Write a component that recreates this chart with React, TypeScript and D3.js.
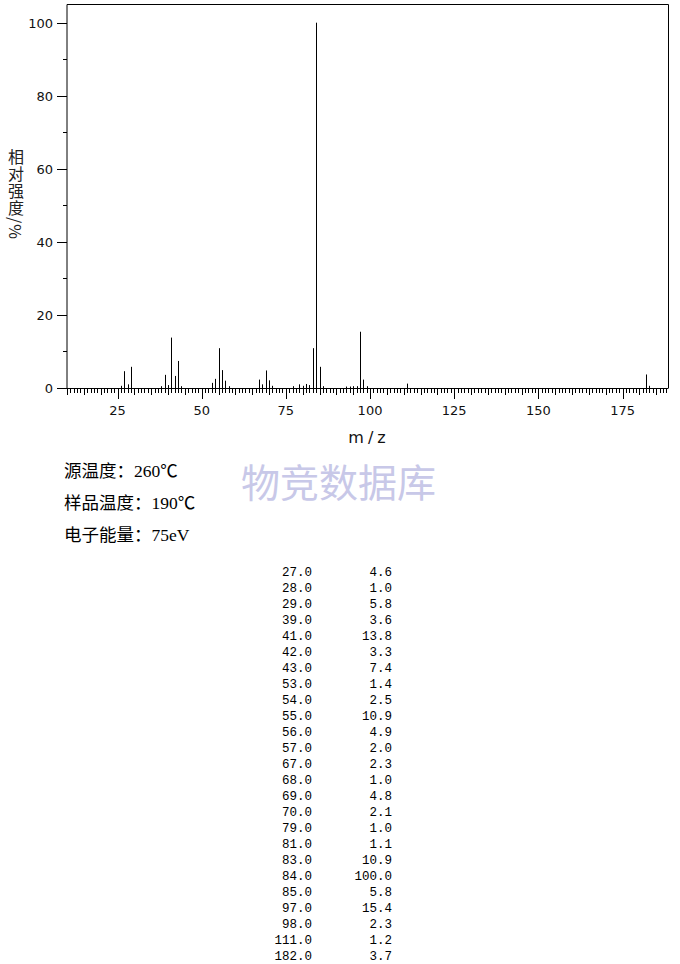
import * as d3 from 'd3';

// tabulated peaks (m/z, relative intensity %)
const peakMz = [27, 28, 29, 39, 41, 42, 43, 53, 54, 55, 56, 57, 67, 68, 69, 70, 79, 81, 83, 84, 85, 97, 98, 111, 182];
const peakInt = [4.6, 1.0, 5.8, 3.6, 13.8, 3.3, 7.4, 1.4, 2.5, 10.9, 4.9, 2.0, 2.3, 1.0, 4.8, 2.1, 1.0, 1.1, 10.9, 100.0, 5.8, 15.4, 2.3, 1.2, 3.7];

// small unlabelled peaks
const minorMz = [26, 38, 40, 44, 58, 71, 77, 80, 82, 86, 93, 94, 95, 96, 99, 183];
const minorInt = [0.6, 0.5, 0.8, 0.5, 0.5, 0.6, 0.5, 0.6, 0.8, 0.5, 0.4, 0.4, 0.5, 0.5, 0.5, 0.6];

const xTicks = [25, 50, 75, 100, 125, 150, 175];
const yTicks = [0, 20, 40, 60, 80, 100];
const yMinor = [10, 30, 50, 70, 90];

const infoLines = ['源温度：260℃', '样品温度：190℃', '电子能量：75eV'];

const W = 680;
const H = 964;
const box = { left: 67, top: 4, right: 668, bottom: 388 };

export default function App() {
  const x = d3.scaleLinear().domain([10, 188.5]).range([box.left, box.right]);
  const y = d3.scaleLinear().domain([0, 100]).range([box.bottom, 22.7]);
  const minorX = d3.range(10, 189, 1);
  const tickFont = "'DejaVu Sans', Verdana, sans-serif";

  return (
    <svg
      width={W}
      height={H}
      viewBox={`0 0 ${W} ${H}`}
      style={{ position: 'absolute', left: 0, top: 0, background: '#fff' }}
    >
      {/* frame */}
      <path
        d={`M${box.left},${box.bottom}V${box.top + 0.5}H${box.right + 0.5}V${box.bottom}`}
        fill="none"
        stroke="#000"
        strokeWidth={1}
      />
      <line x1={box.left} x2={box.right + 0.5} y1={box.bottom + 0.5} y2={box.bottom + 0.5} stroke="#000" />

      {/* x ticks */}
      {minorX.map((v) => {
        const len = v % 25 === 0 ? 11 : v % 5 === 0 ? 7 : 5;
        const px = Math.round(x(v)) + 0.5;
        return <line key={`xt${v}`} x1={px} x2={px} y1={box.bottom} y2={box.bottom + len} stroke="#000" />;
      })}
      {xTicks.map((v) => (
        <text key={`xl${v}`} x={x(v)} y={415} textAnchor="middle" fontFamily={tickFont} fontSize={13} fill="#111">
          {v}
        </text>
      ))}
      <text x={369} y={443} textAnchor="middle" fontFamily={tickFont} fontSize={16} letterSpacing={4} fill="#111">
        m/z
      </text>

      {/* y ticks */}
      {yTicks.map((v) => {
        const py = Math.round(y(v)) + 0.5;
        return (
          <g key={`yt${v}`}>
            <line x1={box.left - 10} x2={box.left} y1={py} y2={py} stroke="#000" />
            <text x={53} y={py} dy="0.35em" textAnchor="end" fontFamily={tickFont} fontSize={13} fill="#111">
              {v}
            </text>
          </g>
        );
      })}
      {yMinor.map((v) => {
        const py = Math.round(y(v)) + 0.5;
        return <line key={`ym${v}`} x1={box.left - 4} x2={box.left} y1={py} y2={py} stroke="#000" />;
      })}
      <text
        x={16}
        y={149}
        fontFamily="'Noto Sans CJK SC', sans-serif"
        fontSize={16}
        letterSpacing={1}
        fill="#222"
        style={{ writingMode: 'vertical-rl' }}
      >
        相对强度/%
      </text>

      {/* peaks */}
      {minorMz.map((m, i) => {
        const px = Math.round(x(m)) + 0.5;
        return <line key={`mp${m}`} x1={px} x2={px} y1={box.bottom} y2={y(minorInt[i])} stroke="#000" />;
      })}
      {peakMz.map((m, i) => {
        const px = Math.round(x(m)) + 0.5;
        return <line key={`p${m}`} x1={px} x2={px} y1={box.bottom} y2={y(peakInt[i])} stroke="#000" />;
      })}

      {/* conditions */}
      {infoLines.map((t, i) => (
        <text
          key={t}
          x={64}
          y={477 + i * 32}
          fontFamily="'Liberation Serif', 'Noto Sans CJK SC', serif"
          fontSize={17.5}
          fill="#000"
        >
          {t}
        </text>
      ))}
      <text x={241} y={497} fontFamily="'Noto Sans CJK SC', sans-serif" fontSize={39} fill="#c8c8e8">
        物竞数据库
      </text>

      {/* peak table */}
      {peakMz.map((m, i) => (
        <g key={`row${m}`} fontFamily="'Liberation Mono', 'Courier New', monospace" fontSize={12.5} fill="#000">
          <text x={312} y={576 + i * 16} textAnchor="end">
            {m.toFixed(1)}
          </text>
          <text x={392} y={576 + i * 16} textAnchor="end">
            {peakInt[i].toFixed(1)}
          </text>
        </g>
      ))}
    </svg>
  );
}
